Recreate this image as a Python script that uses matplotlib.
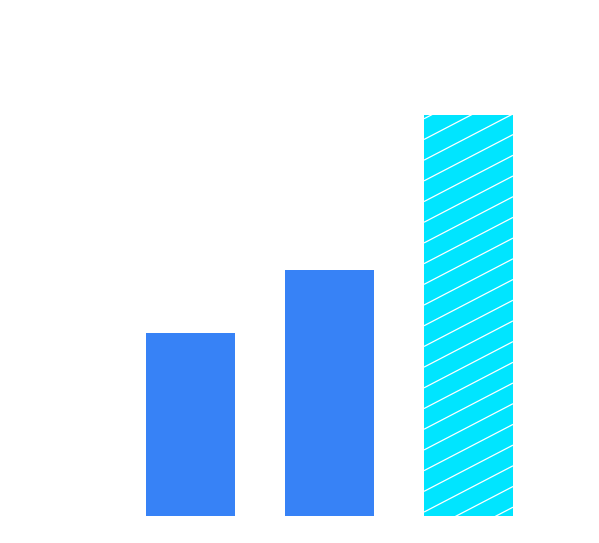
import numpy as np
import matplotlib
matplotlib.use('Agg')
import matplotlib.pyplot as plt

categories = ["A", "B", "C"]
values = [45.6, 61.3, 100.0]
colors = ["#3782F6", "#3782F6", "#00E5FF"]
hatched = [False, False, True]

W, H = 599, 543
fig = plt.figure(figsize=(W / 100, H / 100), dpi=100)
ax = fig.add_axes([121 / W, (H - 516) / H, 417 / W, 401 / H])

x = np.arange(len(categories))
bars = ax.bar(x, values, width=0.64, color=colors, linewidth=0)
ax.set_xlim(-0.5, 2.5)
ax.set_ylim(0, 100)
ax.axis('off')

# thin white diagonal stripes on the highlighted bar
px_x = 139.0  # pixels per data unit in x
px_y = 4.01   # pixels per data unit in y
slope = 0.52 * px_x / px_y
step = 20.7 / px_y
for bar, h in zip(bars, hatched):
    if not h:
        continue
    x0 = bar.get_x()
    x1 = x0 + bar.get_width()
    top = bar.get_height()
    start = 93.9 - step * 30
    for k in range(80):
        y0 = start + k * step
        ln, = ax.plot([x0, x1], [y0, y0 + slope * (x1 - x0)],
                      color='white', linewidth=0.9, solid_capstyle='butt')
        ln.set_clip_path(bar)

fig.savefig('out.png', dpi=100)
